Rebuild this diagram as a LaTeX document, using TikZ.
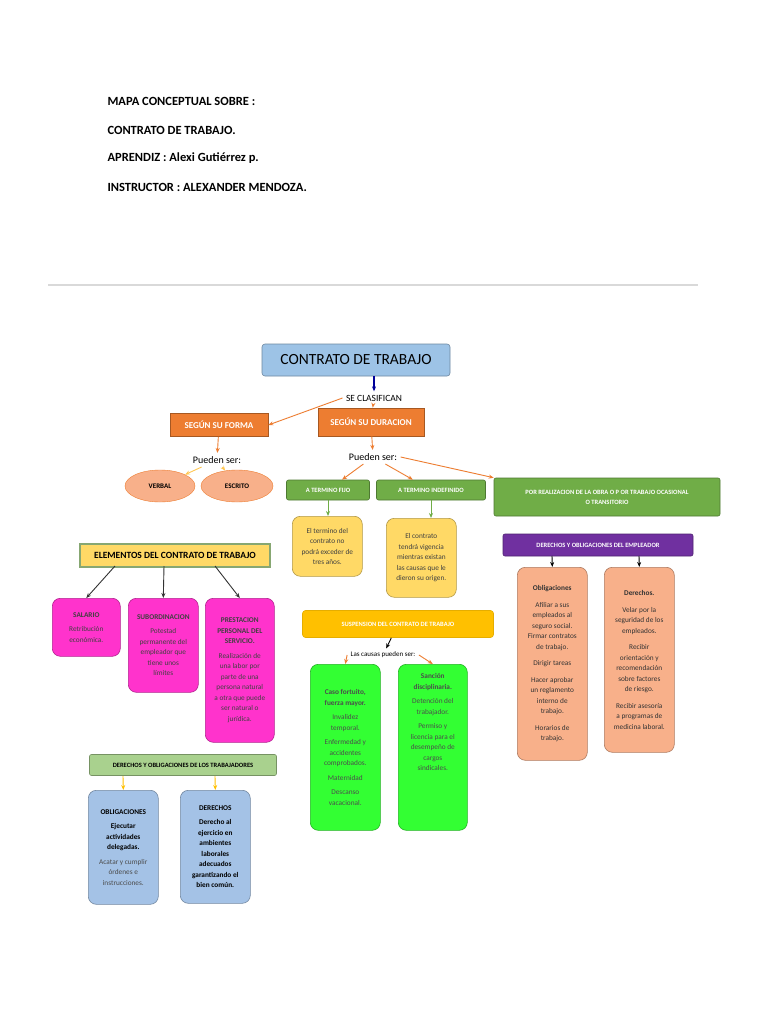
\documentclass[tikz,border=0pt]{standalone}
\usepackage{fontspec}
\setmainfont{Carlito}
\usetikzlibrary{arrows.meta,shapes.geometric}
\definecolor{cblue}{HTML}{9DC3E6}
\definecolor{corange}{HTML}{ED7D31}
\definecolor{cgreen}{HTML}{70AD47}
\definecolor{cyel}{HTML}{FFD966}
\definecolor{cmag}{HTML}{FF33CC}
\definecolor{cpur}{HTML}{7030A0}
\definecolor{csal}{HTML}{F8B08A}
\definecolor{clime}{HTML}{33FF33}
\definecolor{clblue}{HTML}{A4C2E6}
\definecolor{clgreen}{HTML}{A9D18E}
\definecolor{csusp}{HTML}{FFC000}
\tikzset{
 bx/.style={draw=#1!70!black,fill=#1,line width=0.6pt,inner sep=2pt,align=center,font=\fontsize{7}{8.5}\selectfont},
 rbx/.style={bx=#1,rounded corners=8pt,anchor=north west,inner sep=0pt},
 ar/.style={-{Stealth[length=5pt,width=4pt]},line width=0.9pt},
 txt/.style={font=\fontsize{7.3}{10.5}\selectfont,align=center,text=black!75}
}
\begin{document}
\begin{tikzpicture}[x=1pt,y=-1pt]
\useasboundingbox[fill=white] (0,0) rectangle (768,1024);
\begin{scope}[every node/.style={anchor=west,font=\bfseries\fontsize{12.5}{14}\selectfont}]
\node (h1) at (104,101) {MAPA CONCEPTUAL SOBRE :};
\node (h2) at (104,130) {CONTRATO DE TRABAJO.};
\node (h3) at (104,158) {APRENDIZ : Alexi Gutiérrez p.};
\node (h4) at (104,187) {INSTRUCTOR : ALEXANDER MENDOZA.};
\end{scope}
\draw[black!15,line width=1.5pt] (48,285) -- (698,285);

\node[bx=cblue,rounded corners=3pt,minimum width=188pt,minimum height=32pt,font=\fontsize{15.5}{17}\selectfont] (ct) at (356,360) {CONTRATO DE TRABAJO};
\node[font=\fontsize{9.5}{10}\selectfont] (sc) at (374,398) {SE CLASIFICAN};
\node[bx=corange,minimum width=98pt,minimum height=23pt,text=white,font=\bfseries\fontsize{9}{10}\selectfont] (sf) at (219,425) {SEGÚN SU FORMA};
\node[bx=corange,minimum width=106pt,minimum height=28pt,text=white,font=\bfseries\fontsize{9}{10}\selectfont] (sd) at (371,422) {SEGÚN SU DURACION};
\draw[ar,blue!60!black,line width=1.5pt] (sc.north|-ct.south) -- (sc.north);
\draw[ar,corange] (sc.west) -- (sf.east);
\draw[ar,corange] (sc) -- (sd);
\node[font=\fontsize{10}{10}\selectfont] (p1) at (217,460) {Pueden ser:};
\node[font=\fontsize{10}{10}\selectfont] (p2) at (373,457) {Pueden ser:};
\draw[ar,corange] (sf) -- (p1);
\draw[ar,corange] (sd) -- (p2);
\node[ellipse,draw=corange,fill=csal,minimum width=70pt,minimum height=32pt,font=\bfseries\fontsize{7}{8}\selectfont] (vb) at (160,486) {VERBAL};
\node[ellipse,draw=corange,fill=csal,minimum width=72pt,minimum height=32pt,font=\bfseries\fontsize{7}{8}\selectfont] (es) at (237,486) {ESCRITO};
\draw[ar,cyel!80!orange] (p1) -- (vb);
\draw[ar,cyel!80!orange] (p1) -- (es);

\begin{scope}[every node/.style={bx=cgreen,text=white,rounded corners=2pt,font=\bfseries\fontsize{6.5}{10}\selectfont}]
\node[minimum width=83pt,minimum height=20pt] (fi) at (328,490) {A TERMINO FIJO};
\node[minimum width=109pt,minimum height=20pt] (in) at (431,490) {A TERMINO INDEFINIDO};
\node[minimum width=226pt,minimum height=38pt] (po) at (607,497) {POR REALIZACION DE LA OBRA O P OR TRABAJO OCASIONAL\\O TRANSITORIO};
\end{scope}
\draw[ar,corange] (p2) -- (fi);
\draw[ar,corange] (p2) -- (in);
\draw[ar,corange] (p2.east) -- (po.north west);

\node[rbx=cyel,minimum width=70pt,minimum height=60pt,txt] (y1) at (292,516) {El termino del\\contrato no\\podrá exceder de\\tres años.};
\node[rbx=cyel,minimum width=70pt,minimum height=79pt,txt] (y2) at (386,518) {El contrato\\tendrá vigencia\\mientras existan\\las causas que le\\dieron su origen.};
\draw[ar,cgreen] (fi) -- (fi|-y1.north);
\draw[ar,cgreen] (in) -- (in|-y2.north);

\node[bx=cpur,text=white,minimum width=190pt,minimum height=22pt,rounded corners=2pt,font=\bfseries\fontsize{6.5}{8}\selectfont] (de) at (598,545) {DERECHOS Y OBLIGACIONES DEL EMPLEADOR};
\node[rbx=csal,minimum width=70pt,minimum height=193pt,txt,text=black!80] (ob) at (517,567) {\textbf{Obligaciones}\\[6pt]Afiliar a sus\\empleados al\\seguro social.\\Firmar contratos\\de trabajo.\\[6pt]Dirigir tareas\\[6pt]Hacer aprobar\\un reglamento\\interno de\\trabajo.\\[6pt]Horarios de\\trabajo.};
\node[rbx=csal,minimum width=70pt,minimum height=185pt,txt,text=black!80] (dr) at (604,567) {\textbf{Derechos.}\\[6pt]Velar por la\\seguridad de los\\empleados.\\[6pt]Recibir\\orientación y\\recomendación\\sobre factores\\de riesgo.\\[6pt]Recibir asesoría\\a programas de\\medicina laboral.};
\draw[ar,black] (552,556) -- (ob.north);
\draw[ar,black] (639,556) -- (dr.north);

\node[bx=cyel,draw=clgreen!80!black,line width=2pt,minimum width=190pt,minimum height=23pt,font=\bfseries\fontsize{9.5}{10}\selectfont] (el) at (175,555) {ELEMENTOS DEL CONTRATO DE TRABAJO};
\node[rbx=cmag,minimum width=68pt,minimum height=58pt,txt] (sa) at (52,598) {\textbf{SALARIO}\\[4pt]Retribución\\económica.};
\node[rbx=cmag,minimum width=70pt,minimum height=94pt,txt] (su) at (128,598) {\textbf{SUBORDINACION}\\[4pt]Potestad\\permanente del\\empleador que\\tiene unos\\límites};
\node[rbx=cmag,minimum width=69pt,minimum height=144pt,txt] (pr) at (205,598) {\textbf{PRESTACION}\\\textbf{PERSONAL DEL}\\\textbf{SERVICIO.}\\[4pt]Realización de\\una labor por\\parte de una\\persona natural\\a otra que puede\\ser natural o\\jurídica.};
\draw[ar,black!80] (115,566) -- (sa.north);
\draw[ar,black!80] (164,566) -- (su.north);
\draw[ar,black!80] (215,566) -- (pr.north);

\node[bx=csusp,draw=csusp!90!black,text=white,minimum width=191pt,minimum height=27pt,rounded corners=3pt,font=\bfseries\fontsize{6.5}{8}\selectfont] (sp) at (398,624) {SUSPENSION DEL CONTRATO DE TRABAJO};
\node[font=\fontsize{7}{8}\selectfont] (lc) at (383,655) {Las causas pueden ser:};
\draw[ar,black] (sp) -- (lc);
\node[rbx=clime,minimum width=70pt,minimum height=166pt,txt,text=black!70] (g1) at (310,664) {\textbf{Caso fortuito,}\\\textbf{fuerza mayor.}\\[4pt]Invalidez\\temporal.\\[4pt]Enfermedad y\\accidentes\\comprobados.\\[4pt]Maternidad\\[4pt]Descanso\\vacacional.};
\node[rbx=clime,minimum width=69pt,minimum height=166pt,txt,text=black!70] (g2) at (398,664) {\textbf{Sanción}\\\textbf{disciplinaria.}\\[4pt]Detención del\\trabajador.\\[4pt]Permiso y\\licencia para el\\desempeño de\\cargos\\sindicales.\\[40pt]};
\draw[ar,corange] (lc.west) -- (g1.north);
\draw[ar,corange] (lc.east) -- (g2.north);

\node[bx=clgreen,minimum width=187pt,minimum height=21pt,rounded corners=2pt,font=\bfseries\fontsize{6.5}{8}\selectfont] (dt) at (183,765) {DERECHOS Y OBLIGACIONES DE LOS TRABAJADORES};
\node[rbx=clblue,minimum width=70pt,minimum height=114pt,txt,text=black!70] (b1) at (88,790) {\textcolor{black}{\textbf{OBLIGACIONES}}\\[4pt]\textcolor{black}{\textbf{Ejecutar}}\\\textcolor{black}{\textbf{actividades}}\\\textcolor{black}{\textbf{delegadas.}}\\[4pt]Acatar y cumplir\\órdenes e\\instrucciones.};
\node[rbx=clblue,minimum width=70pt,minimum height=113pt,txt,text=black] (b2) at (180,790) {\textbf{DERECHOS}\\[4pt]\textbf{Derecho al}\\\textbf{ejercicio en}\\\textbf{ambientes}\\\textbf{laborales}\\\textbf{adecuados}\\\textbf{garantizando el}\\\textbf{bien común.}};
\draw[ar,csusp] (123,776) -- (b1.north);
\draw[ar,csusp] (215,776) -- (b2.north);
\end{tikzpicture}
\end{document}
